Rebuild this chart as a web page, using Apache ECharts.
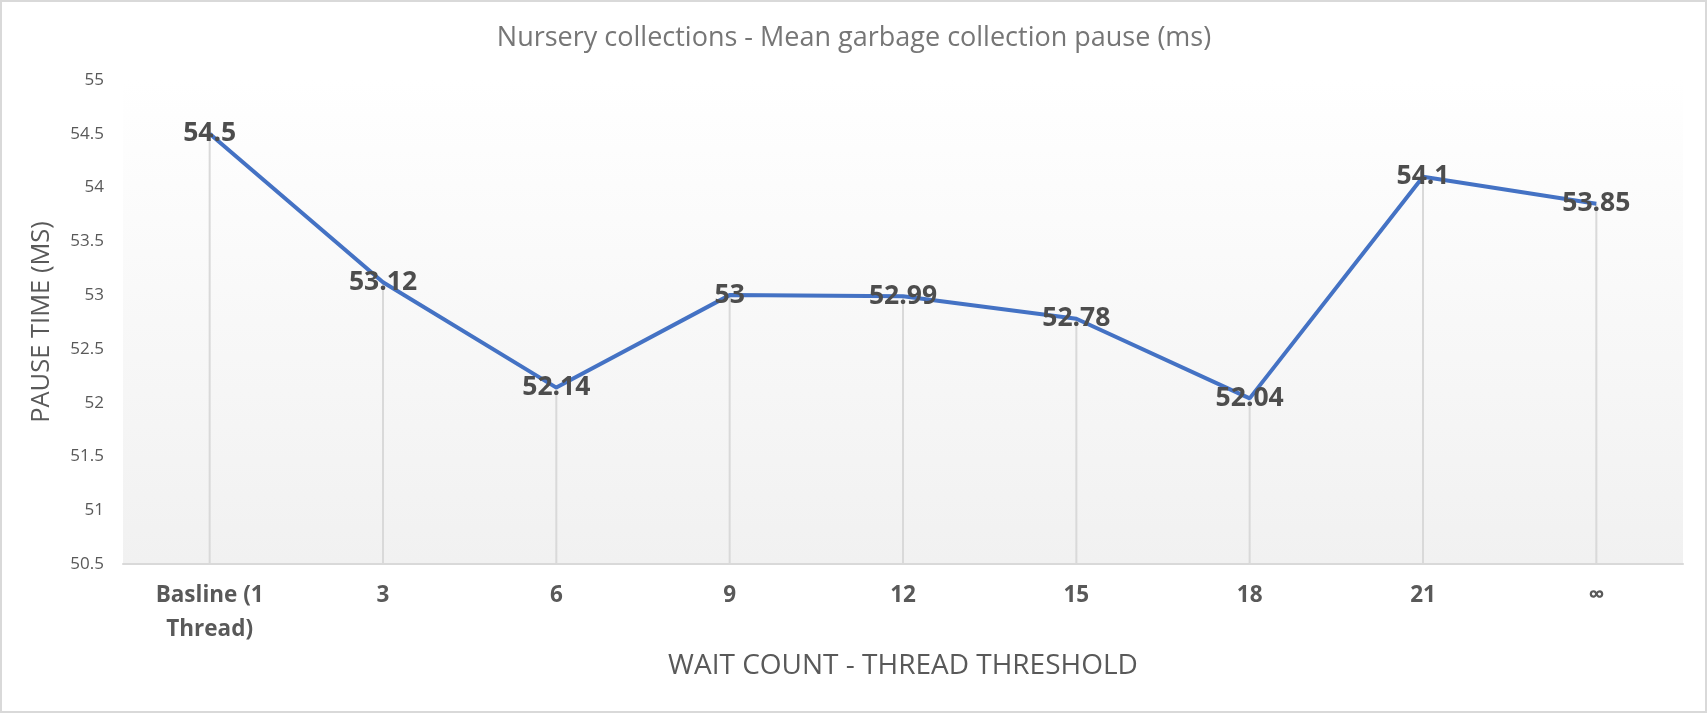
<!DOCTYPE html>
<html>
<head>
<meta charset="utf-8">
<script src="https://cdn.jsdelivr.net/npm/echarts@6/dist/echarts.min.js"></script>
<style>
html,body{margin:0;padding:0;background:#fff;}
#chart{width:1708px;height:714px;}
</style>
</head>
<body>
<div id="chart"></div>
<script>
const categories = ['Basline (1\nThread)', '3', '6', '9', '12', '15', '18', '21', '∞'];
const pauseValues = [54.5, 53.12, 52.14, 53, 52.99, 52.78, 52.04, 54.1, 53.85];
const yMin = 50.5, yMax = 55, yStep = 0.5;
const titleText = 'Nursery collections - Mean garbage collection pause (ms)';
const xName = 'WAIT COUNT - THREAD THRESHOLD';
const yName = 'PAUSE TIME (MS)';

const FONT = '"Open Sans", sans-serif';
const chart = echarts.init(document.getElementById('chart'));
chart.setOption({
  animation: false,
  backgroundColor: '#ffffff',
  title: {
    text: titleText, left: 'center', top: 20,
    textStyle: { fontFamily: FONT, fontSize: 27, fontWeight: 'normal', color: '#767676' }
  },
  grid: {
    left: 123, right: 25, top: 80, bottom: 150,
    show: true, borderWidth: 0,
    backgroundColor: { type: 'linear', x: 0, y: 0, x2: 0, y2: 1,
      colorStops: [{ offset: 0, color: '#ffffff' }, { offset: 1, color: '#f1f1f1' }] }
  },
  xAxis: {
    type: 'category', data: categories, boundaryGap: true,
    name: xName, nameLocation: 'middle', nameGap: 86,
    nameTextStyle: { fontFamily: FONT, fontSize: 28, color: '#595959' },
    axisLine: { lineStyle: { color: '#d9d9d9', width: 2 } },
    axisTick: { show: false },
    axisLabel: { fontFamily: FONT, fontSize: 22.5, fontWeight: 'bold', color: '#595959', margin: 15, lineHeight: 34, interval: 0 },
    splitLine: { show: false }
  },
  yAxis: {
    type: 'value', min: yMin, max: yMax, interval: yStep,
    name: yName, nameLocation: 'middle', nameGap: 68,
    nameTextStyle: { fontFamily: FONT, fontSize: 25.5, color: '#595959' },
    axisLine: { show: false }, axisTick: { show: false },
    axisLabel: { fontFamily: FONT, fontSize: 17, color: '#595959', margin: 19 },
    splitLine: { show: false }
  },
  series: [
    {
      type: 'bar', data: pauseValues, barWidth: 2, barGap: '-100%',
      itemStyle: { color: '#d9d9d9' }, z: 1, silent: true
    },
    {
      type: 'line', data: pauseValues, z: 3,
      symbol: 'circle', symbolSize: 0, showSymbol: true,
      lineStyle: { color: '#4472C4', width: 4 },
      itemStyle: { color: '#4472C4' },
      label: {
        show: true, position: 'inside',
        fontFamily: FONT, fontSize: 26.5, fontWeight: 'bold', color: '#4d4d4d'
      }
    }
  ],
  graphic: [{
    type: 'rect', shape: { x: 1, y: 1, width: 1705, height: 711 },
    style: { fill: 'none', stroke: '#d9d9d9', lineWidth: 2 }, silent: true
  }]
});
</script>
</body>
</html>
